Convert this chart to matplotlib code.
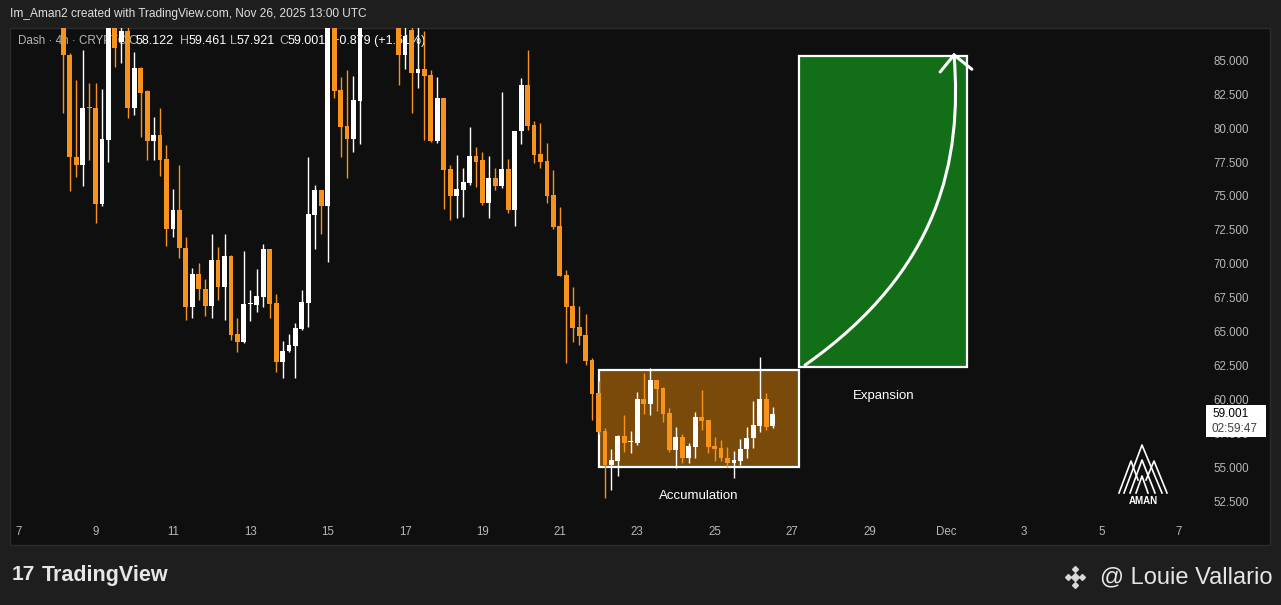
import matplotlib
matplotlib.use("Agg")
import matplotlib.pyplot as plt
import numpy as np
import pandas as pd
from matplotlib.patches import Rectangle, PathPatch
from matplotlib.path import Path

plt.rcParams['font.family'] = ['Liberation Sans', 'DejaVu Sans']

# ---------------- data (DASH/USD, 4h candles) ----------------
opens = [87.6, 85.4, 77.9, 77.3, 81.5, 81.5, 74.4, 79.1, 87.6, 86.35,
         87.15, 81.5, 84.4, 82.7, 79.07, 79.49, 77.7, 72.57, 73.97, 71.2,
         66.82, 69.26, 68.14, 66.94, 70.29, 68.33, 70.59, 64.85, 64.29, 67.05,
         66.99, 67.6, 71.08, 67.1, 62.82, 63.6, 64.0, 65.22, 67.16, 73.6,
         75.44, 74.29, 88.0, 82.79, 80.15, 79.19, 82.0,
         87.8, 89.9, 91.2, 89.5, 90.1,
         88.0, 85.37, 87.2, 84.02, 84.34, 83.9, 79.07, 82.18, 77.0, 75.0,
         75.44, 75.98, 77.94, 77.65, 74.51, 76.3, 75.76, 76.99, 73.97, 79.78,
         83.16, 80.22, 78.1, 77.57, 75.07, 72.79, 69.19, 66.9, 65.35, 64.78,
         62.94, 60.5, 57.72, 55.22, 55.5, 57.35, 56.9, 56.86, 60.07, 59.7,
         61.47, 60.9, 59.07, 56.32, 57.26, 55.76, 56.57, 58.77, 58.53, 56.62,
         56.49, 55.76, 55.4, 55.54, 56.37, 57.2, 58.09, 60.07, 58.122]
highs = [88.0, 85.5, 83.5, 85.7, 83.3, 83.3, 82.87, 88.2, 87.9, 87.6,
         87.6, 85.57, 84.45, 82.8, 80.83, 81.5, 78.75, 75.51, 77.28, 71.96,
         69.68, 70.05, 68.88, 72.21, 71.27, 72.21, 70.65, 66.0, 70.96, 68.09,
         69.6, 71.5, 71.1, 67.77, 64.34, 64.85, 65.64, 68.09, 77.89, 75.8,
         75.44, 88.5, 88.3, 83.77, 84.3, 83.82, 88.3,
         90.5, 92.0, 91.8, 90.6, 90.4,
         88.4, 87.6, 87.5, 87.5, 87.1, 84.3, 83.77, 82.2, 77.28, 78.0,
         77.04, 80.1, 78.63, 78.26, 77.94, 77.04, 82.67, 77.7, 79.8, 83.65,
         85.74, 80.5, 80.35, 78.87, 76.9, 74.2, 69.56, 68.3, 66.9, 66.32,
         63.06, 61.4, 57.92, 56.4, 57.43, 58.9, 57.7, 60.57, 62.0, 62.38,
         61.5, 60.95, 59.4, 58.0, 57.5, 56.82, 59.1, 60.74, 58.55, 57.26,
         57.06, 56.57, 56.25, 57.1, 58.04, 59.95, 63.18, 60.5, 59.461]
lows = [81.1, 75.4, 76.4, 75.7, 77.65, 73.0, 74.3, 77.52, 84.5, 84.8,
        80.71, 80.96, 79.36, 77.65, 77.65, 76.49, 71.35, 72.0, 70.46, 65.88,
        66.0, 67.35, 66.18, 66.0, 67.35, 65.9, 64.4, 63.55, 64.2, 65.84,
        66.5, 66.86, 66.05, 62.08, 61.6, 63.53, 61.6, 65.15, 65.39, 71.1,
        72.2, 70.17, 82.23, 77.89, 76.35, 78.2, 78.8,
        87.5, 89.0, 88.9, 88.2, 87.6,
        83.16, 84.32, 81.08, 82.92, 79.1, 79.0, 78.87, 74.04, 73.24, 73.4,
        73.48, 75.8, 75.68, 74.34, 73.36, 75.44, 75.6, 73.75, 72.8, 78.8,
        79.85, 77.4, 77.04, 74.46, 72.6, 69.1, 62.7, 64.29, 64.04, 62.57,
        58.5, 57.5, 52.77, 53.38, 54.41, 56.2, 56.1, 56.69, 59.0, 58.9,
        59.2, 58.4, 56.2, 54.98, 55.35, 55.35, 55.7, 57.8, 56.08, 55.54,
        55.52, 55.05, 54.29, 55.22, 55.7, 56.45, 57.67, 57.8, 57.921]
closes = [85.4, 77.9, 77.3, 81.5, 81.45, 74.4, 79.19, 87.6, 85.86, 87.15,
          81.5, 84.39, 82.6, 79.07, 79.49, 77.65, 72.57, 73.97, 71.2, 66.82,
          69.26, 68.14, 66.94, 70.29, 68.33, 70.59, 64.78, 64.29, 67.06, 67.08,
          67.65, 71.08, 67.06, 62.82, 63.6, 64.04, 65.27, 67.18, 73.65, 75.44,
          74.29, 88.0, 82.72, 80.1, 79.19, 82.06, 87.8,
          89.9, 91.2, 89.5, 90.1, 88.0,
          85.37, 86.76, 84.02, 84.34, 83.85, 79.07, 82.18, 76.91, 75.0, 75.51,
          76.05, 77.94, 77.52, 74.46, 76.3, 75.76, 76.99, 73.97, 79.78, 83.16,
          80.15, 78.0, 77.52, 75.0, 72.7, 69.12, 66.86, 65.32, 64.73, 62.87,
          60.42, 57.67, 55.22, 55.59, 57.35, 56.86, 56.95, 60.07, 59.7, 61.47,
          60.8, 59.0, 56.3, 57.26, 55.76, 56.62, 58.77, 58.48, 56.57, 56.42,
          55.7, 55.4, 55.6, 56.4, 57.24, 58.16, 60.07, 58.04, 59.001]

first_candle = "2025-11-08 04:00"
origin_day = "2025-11-07"
tick_days = [0, 2, 4, 6, 8, 10, 12, 14, 16, 18, 20, 22, 24, 26, 28, 30]
tick_labels = ["7", "9", "11", "13", "15", "17", "19", "21", "23", "25",
               "27", "29", "Dec", "3", "5", "7"]
price_ticks = [52.5, 55.0, 57.5, 60.0, 62.5, 65.0, 67.5, 70.0, 72.5,
               75.0, 77.5, 80.0, 82.5, 85.0]

# drawings (days since Nov 7, price)
accum_box = (15.0, 20.19, 55.1, 62.2)
expansion_box = (20.19, 24.53, 62.45, 85.32)
arrow_curve_x = [20.34, 23.83, 24.40, 24.19]
arrow_curve_y = [62.57, 69.56, 77.65, 85.37]
arrow_head_x = [23.83, 24.19, 24.65]
arrow_head_y = [84.12, 85.37, 84.32]

# ---------------- figure ----------------
W, H = 1281, 605
fig = plt.figure(figsize=(W / 100, H / 100), dpi=100, facecolor='#1e1e1e')

bg = fig.add_axes([0, 0, 1, 1], zorder=0)
bg.set_xlim(0, W); bg.set_ylim(H, 0); bg.axis('off')
bg.add_patch(Rectangle((10, 28), 1260, 517, facecolor='#0f0f0f',
                       edgecolor='#2c2c2c', lw=1.0))
bg.text(10, 14, "Im_Aman2 created with TradingView.com, Nov 26, 2025 13:00 UTC",
        color='#e0e0e0', fontsize=8.6, va='center', ha='left')

grey = '#b2b5be'
legend_parts = [(18, "Dash · 4h · CRYPTO", grey, 8.4), (128, "O", grey, 9),
                (136, "58.122", 'white', 9), (180, "H", grey, 9),
                (189, "59.461", 'white', 9), (230, "L", grey, 9),
                (237, "57.921", 'white', 9), (279, "C", grey, 9),
                (288, "59.001", 'white', 9), (332, "+0.879 (+1.51%)", 'white', 9)]
for px, s, col, fs in legend_parts:
    bg.text(px, 41, s, color=col, fontsize=fs, va='center', ha='left')

ax = fig.add_axes([10 / W, 1 - 515 / H, (1198 - 10) / W, (515 - 28) / H], zorder=1)
ax.set_facecolor('none')
for sp in ax.spines.values():
    sp.set_visible(False)

t = pd.date_range(first_candle, periods=len(opens), freq="4h")
x = ((t - pd.Timestamp(origin_day)) / pd.Timedelta(days=1)).to_numpy()
o = np.array(opens); h = np.array(highs); l = np.array(lows); c = np.array(closes)
cols = np.where(c >= o, '#ffffff', '#f7931a')

# drawings behind candles
ax0, ax1, ay0, ay1 = accum_box
ax.add_patch(Rectangle((ax0, ay0), ax1 - ax0, ay1 - ay0, facecolor='#7a4a0a',
                       edgecolor='white', lw=1.6, zorder=1))
ax.text((ax0 + ax1) / 2, ay0 - 1.75, "Accumulation", color='white', fontsize=9.5,
        ha='center', va='top', zorder=5)
ex0, ex1, ey0, ey1 = expansion_box
ax.add_patch(Rectangle((ex0, ey0), ex1 - ex0, ey1 - ey0, facecolor='#136f17',
                       edgecolor='white', lw=1.6, zorder=1))
ax.text((ex0 + ex1) / 2, ey0 - 1.7, "Expansion", color='white', fontsize=9.5,
        ha='center', va='top', zorder=5)
curve = Path(list(zip(arrow_curve_x, arrow_curve_y)),
             [Path.MOVETO, Path.CURVE4, Path.CURVE4, Path.CURVE4])
ax.add_patch(PathPatch(curve, facecolor='none', edgecolor='white', lw=2.2,
                       capstyle='round', zorder=6, clip_on=False))
ax.plot(arrow_head_x, arrow_head_y, color='white', lw=2.2, solid_capstyle='round',
        solid_joinstyle='miter', zorder=6, clip_on=False)

ax.vlines(x, l, h, colors=cols, lw=1.0, zorder=3)
ax.bar(x, np.maximum(np.abs(c - o), 0.08), bottom=np.minimum(o, c), width=0.125,
       color=cols, linewidth=0, zorder=4)

ax.set_xlim(-0.211, 30.495)
ax.set_ylim(51.544, 87.353)
ax.yaxis.tick_right()
ax.set_yticks(price_ticks)
ax.set_yticklabels([f"{v:.3f}" for v in price_ticks])
ax.set_xticks(tick_days)
ax.set_xticklabels(tick_labels)
ax.tick_params(axis='y', length=0, pad=11, labelsize=8.3, labelcolor='#b8b8b8')
ax.tick_params(axis='x', length=0, pad=8, labelsize=8.3, labelcolor='#b8b8b8')

# ---------------- overlay decorations ----------------
deco = fig.add_axes([0, 0, 1, 1], zorder=3)
deco.set_xlim(0, W); deco.set_ylim(H, 0); deco.axis('off')
deco.patch.set_alpha(0)

fig.canvas.draw()
ypx = H - ax.transData.transform((0, closes[-1]))[1]
deco.add_patch(Rectangle((1206, ypx - 9), 60, 32, facecolor='white', edgecolor='none'))
deco.text(1212, ypx, f"{closes[-1]:.3f}", color='black', fontsize=8.5, va='center')
deco.text(1212, ypx + 15, "02:59:47", color='#404040', fontsize=8.5, va='center')

# AMAN logo
for seg in [[(1124, 493), (1142, 445), (1162, 493)],
            [(1130, 493), (1142, 460), (1155, 493)],
            [(1119, 493), (1131, 461), (1138, 480)],
            [(1146, 480), (1154, 461), (1167, 493)],
            [(1136, 493), (1142, 476), (1148, 493)]]:
    xs, ys = zip(*seg)
    deco.plot(xs, ys, color='white', lw=1.2)
deco.text(1143, 501, "AMAN", color='white', fontsize=7, fontweight='bold',
          ha='center', va='center')

# footer
deco.text(12, 575, "17", color='#e6e6e6', fontsize=15, fontweight='bold', va='center')
deco.text(42, 575, "TradingView", color='#e6e6e6', fontsize=15.5, fontweight='bold',
          va='center')
cx, cy = 1075, 577
deco.plot([cx], [cy], marker='D', ms=4, color='#d8d8d8', ls='none')
for dx, dy in [(0, -8), (0, 8), (-7, 0), (7, 0)]:
    deco.plot([cx + dx], [cy + dy], marker='D', ms=3, color='#d8d8d8', ls='none')
deco.text(1272, 577, "@ Louie Vallario", color='#e6e6e6', fontsize=17, ha='right',
          va='center')

fig.savefig("out.png", dpi=100, facecolor=fig.get_facecolor())
